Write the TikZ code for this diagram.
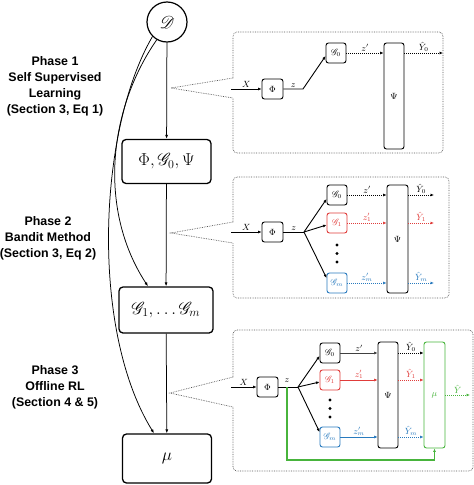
\documentclass[tikz,border=0pt]{standalone}
\usepackage{fontspec}
\usepackage{mathrsfs}
\usetikzlibrary{arrows.meta}
\newfontfamily\helvfont{Liberation Sans}
\definecolor{gred}{RGB}{224,60,58}
\definecolor{gblue}{RGB}{40,122,190}
\definecolor{ggreen}{RGB}{72,180,60}
\definecolor{pgray}{RGB}{85,85,85}

\tikzset{
	phase/.style={font=\helvfont\bfseries\fontsize{12.4}{16}\selectfont, align=center},
	bigbox/.style={draw, rounded corners=4pt, line width=1.3pt, minimum width=89pt, minimum height=44pt, font=\fontsize{16.5}{19}\selectfont},
	smallbox/.style={draw, rounded corners=2.5pt, line width=0.9pt, minimum width=20pt, minimum height=20pt, inner sep=0pt, font=\fontsize{9}{10}\selectfont},
	tallbox/.style={draw, rounded corners=2.5pt, line width=0.9pt, minimum width=20pt, inner sep=0pt, font=\fontsize{9}{10}\selectfont},
	panel/.style={draw=pgray, densely dotted, line width=0.7pt, rounded corners=4pt},
	arr/.style={-{Latex[length=4pt,width=3pt]}, line width=0.75pt},
	flow/.style={-{Latex[length=3.5pt,width=3pt]}, line width=0.9pt},
	dflow/.style={-{Latex[length=3.5pt,width=3pt]}, line width=1pt, densely dotted},
	lbl/.style={font=\fontsize{9}{10}\selectfont, inner sep=0.8pt},
	dot/.style={circle, fill, inner sep=0pt, minimum size=3.2pt},
}

\begin{document}
\begin{tikzpicture}[x=1pt, y=-1pt]
	\useasboundingbox (0,0) rectangle (474,485);

	% main pipeline
	\node[draw, circle, minimum size=40pt, line width=1.2pt, font=\fontsize{16}{19}\selectfont] (data) at (167,22) {$\mathscr{D}$};
	\node[bigbox] (enc) at (166.5,161.5) {$\Phi, \mathscr{G}_0, \Psi$};
	\node[bigbox, minimum width=94pt, minimum height=46pt] (heads) at (166,310) {$\mathscr{G}_1, \ldots\mathscr{G}_m$};
	\node[bigbox, minimum height=49pt] (pol) at (167,458.5) {$\mu$};

	\draw[arr] (data) -- (enc);
	\draw[arr] (enc) -- (heads);
	\draw[arr] (heads) -- (pol);
	\draw[arr] (data.225) .. controls (98,130) and (90,330) .. ([xshift=-13pt]pol.north);
	\draw[arr] (data.240) .. controls (108,110) and (98,210) .. ([xshift=-18pt]heads.north);

	\node[phase] (ph1) at (55,86) {Phase 1\\Self Supervised\\Learning\\(Section 3, Eq 1)};
	\node[phase] (ph2) at (48,238) {Phase 2\\Bandit Method\\(Section 3, Eq 2)};
	\node[phase] (ph3) at (55,387) {Phase 3\\Offline RL\\(Section 4 \& 5)};

	% phase 1 panel
	\draw[panel] (233,78) |- (443,32) |- (233,153) -- (233,98);
	\draw[panel, sharp corners] (233,78) -- (171,88) -- (233,98);
	\coordinate (xin1) at (231,89);
	\node[smallbox, minimum width=21pt] (phi1) at (272.5,89) {$\Phi$};
	\coordinate (br1) at (303,89);
	\node[smallbox] (g01) at (336,53) {$\mathscr{G}_0$};
	\node[tallbox, minimum height=106pt] (psi1) at (394,96) {$\Psi$};
	\coordinate (y01) at (443,53);
	\draw[flow] (xin1) -- node[lbl, above] {$X$} (phi1);
	\draw[flow] (phi1) -- node[lbl, above] {$z$} (br1) -- ([yshift=-3pt]g01.west);
	\draw[dflow] (g01.east) -- node[lbl, above] {$z'$} (g01.east -| psi1.west);
	\draw[dflow] (g01.east -| psi1.east) -- node[lbl, above] {$\hat{Y}_0$} (y01);

	% phase 2 panel
	\draw[panel] (233,222) |- (449,177) |- (233,298) -- (233,243);
	\draw[panel, sharp corners] (233,222) -- (171,233) -- (233,243);
	\coordinate (xin2) at (231,232);
	\node[smallbox, minimum width=21pt] (phi2) at (272.5,232) {$\Phi$};
	\coordinate (br2) at (304,232);
	\node[smallbox] (g02) at (337,195) {$\mathscr{G}_0$};
	\node[smallbox, draw=gred, text=gred] (g12) at (337,223) {$\mathscr{G}_1$};
	\node[smallbox, draw=gblue, text=gblue] (gm2) at (337,283) {$\mathscr{G}_m$};
	\node[dot] (d21) at (337,245) {};
	\node[dot] (d22) at (337,253.5) {};
	\node[dot] (d23) at (337,262) {};
	\node[tallbox, minimum width=21pt, minimum height=108pt] (psi2) at (397.5,239) {$\Psi$};
	\coordinate (out2) at (434,0);
	\draw[flow] (xin2) -- node[lbl, above] {$X$} (phi2);
	\draw[line width=0.9pt] (phi2) -- node[lbl, above] {$z$} (br2);
	\draw[flow] (br2) -- ([yshift=-4pt]g02.west);
	\draw[flow] (br2) -- ([yshift=-2pt]g12.west);
	\draw[flow] (br2) -- ([yshift=5pt]gm2.west);
	\draw[dflow] (g02.east) -- node[lbl, above] {$z'$} (g02.east -| psi2.west);
	\draw[dflow, gred] (g12.east) -- node[lbl, above] {$z'_1$} (g12.east -| psi2.west);
	\draw[dflow, gblue] (gm2.east) -- node[lbl, above] {$z'_m$} (gm2.east -| psi2.west);
	\draw[dflow] (g02.east -| psi2.east) -- node[lbl, above] {$\hat{Y}_0$} (g02.east -| out2);
	\draw[dflow, gred] (g12.east -| psi2.east) -- node[lbl, above] {$\hat{Y}_1$} (g12.east -| out2);
	\draw[dflow, gblue] (gm2.east -| psi2.east) -- node[lbl, above] {$\hat{Y}_m$} (gm2.east -| out2);

	% phase 3 panel
	\draw[panel] (233,377) |- (473,330) |- (233,471) -- (233,407);
	\draw[panel, sharp corners] (233,377) -- (170,393) -- (233,407);
	\coordinate (xin3) at (231,387);
	\node[smallbox, minimum width=21pt] (phi3) at (267.5,387) {$\Phi$};
	\coordinate (br3) at (298,387);
	\coordinate (tap3) at (287,387);
	\coordinate (low3) at (0,460);
	\node[smallbox] (g03) at (330,353) {$\mathscr{G}_0$};
	\node[smallbox, draw=gred, text=gred] (g13) at (330,380) {$\mathscr{G}_1$};
	\node[smallbox, draw=gblue, text=gblue] (gm3) at (330,437) {$\mathscr{G}_m$};
	\node[dot] (d31) at (330,400) {};
	\node[dot] (d32) at (330,408.5) {};
	\node[dot] (d33) at (330,417) {};
	\node[tallbox, minimum height=106pt] (psi3) at (388,395) {$\Psi$};
	\node[tallbox, minimum width=21pt, minimum height=106pt, draw=ggreen, text=ggreen] (mu3) at (434.5,395) {$\mu$};
	\coordinate (out3) at (470,395);
	\draw[flow] (xin3) -- node[lbl, above] {$X$} (phi3);
	\draw[line width=0.9pt] (phi3) -- (br3);
	\node[lbl] (z3) at (287,381) {$z$};
	\draw[flow] (br3) -- ([yshift=-3pt]g03.west);
	\draw[flow] (br3) -- ([yshift=-2pt]g13.west);
	\draw[flow] (br3) -- ([yshift=5pt]gm3.west);
	\draw[flow, ggreen, line width=1.1pt] (tap3) |- (low3 -| mu3.south) -- (mu3.south);
	\draw[flow, line width=0.6pt, black!75] (g03.east) -- node[lbl, above, black] {$z'$} (g03.east -| psi3.west);
	\draw[flow, line width=0.6pt, gred] (g13.east) -- node[lbl, above] {$z'_1$} (g13.east -| psi3.west);
	\draw[flow, line width=0.6pt, gblue] (gm3.east) -- node[lbl, above] {$z'_m$} (gm3.east -| psi3.west);
	\draw[dflow] (g03.east -| psi3.east) -- node[lbl, above] {$\hat{Y}_0$} (g03.east -| mu3.west);
	\draw[dflow, gred] (g13.east -| psi3.east) -- node[lbl, above] {$\hat{Y}_1$} (g13.east -| mu3.west);
	\draw[dflow, gblue] (gm3.east -| psi3.east) -- node[lbl, above] {$\hat{Y}_m$} (gm3.east -| mu3.west);
	\draw[dflow, ggreen] (mu3) -- node[lbl, above] {$\hat{Y}$} (out3);
\end{tikzpicture}
\end{document}
